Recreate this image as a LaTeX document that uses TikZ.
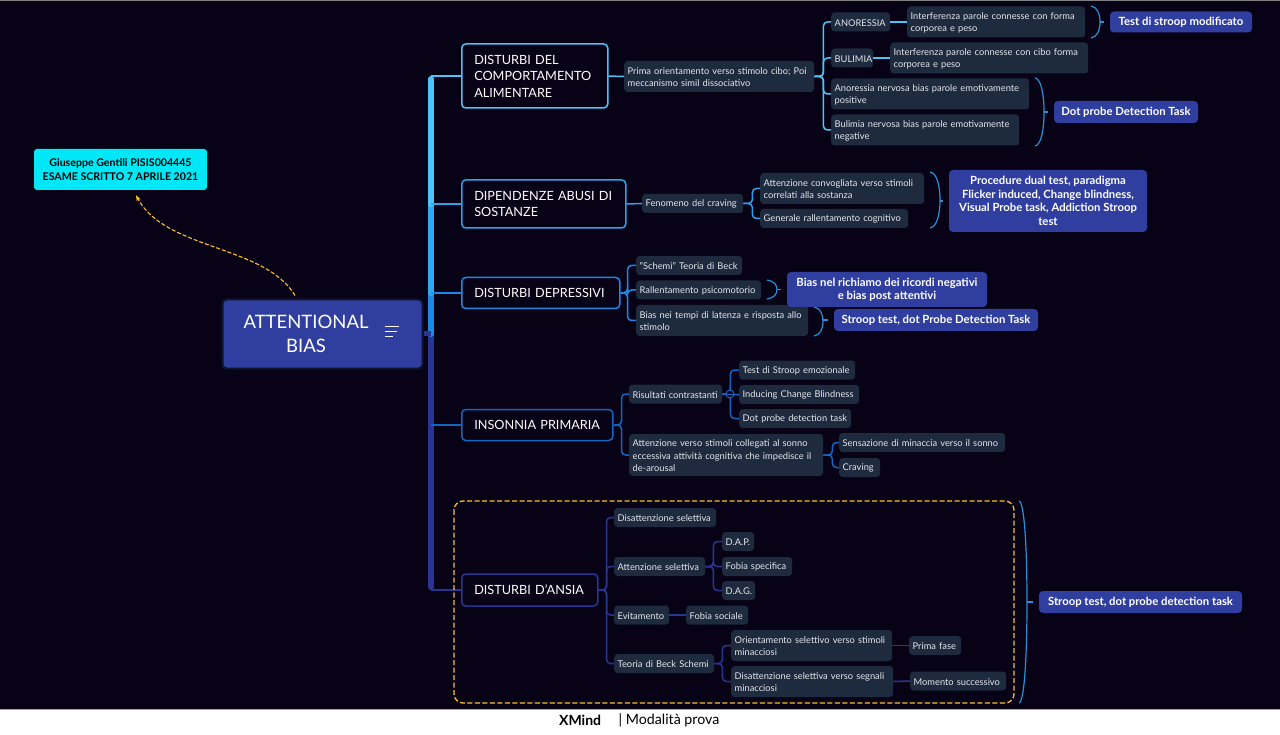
\documentclass[tikz,border=0pt]{standalone}
\usepackage{fontspec}
\setmainfont{Lato}
\usetikzlibrary{arrows.meta}

\definecolor{bgdark}{HTML}{080216}
\definecolor{leaffill}{HTML}{1E2A3E}
\definecolor{leaftext}{HTML}{E2E6EC}
\definecolor{sumfill}{HTML}{303F9F}
\definecolor{notefill}{HTML}{00E8F8}
\definecolor{relyellow}{HTML}{FBC02D}
\definecolor{braceblue}{HTML}{2A8FD6}
\definecolor{cone}{HTML}{4DC3FA}
\definecolor{ctwo}{HTML}{2BA2EC}
\definecolor{cthree}{HTML}{1E88E5}
\definecolor{cfour}{HTML}{1565C0}
\definecolor{cfive}{HTML}{283593}

\tikzset{
  leaf/.style={anchor=west, fill=leaffill, rounded corners=3.5pt, inner xsep=3.5pt, inner ysep=0pt,
    minimum height=19pt, align=left, text=leaftext, font=\fontsize{9.3}{12.5}\selectfont, text width=#1,
    text height=8.5pt},
  tall/.style={minimum height=31pt},
  branchbox/.style={anchor=west, draw=#1, fill=bgdark, line width=1.5pt, rounded corners=4pt, inner xsep=12.5pt,
    inner ysep=0pt, align=left, text=white, font=\fontsize{12.7}{16.5}\selectfont},
  sumbox/.style={fill=sumfill, rounded corners=4pt, inner sep=0pt, align=center, text=white,
    font=\fontsize{11.3}{13.5}\selectfont\bfseries},
  link/.style={draw=#1, line width=1.5pt, rounded corners=4pt},
  trunkline/.style={draw=#1, line width=6pt, line cap=round},
  sumline/.style={draw=braceblue, line width=1.2pt},
}

\newcommand{\sumbrace}[5]{
  \pgfmathsetmacro\bmid{(#4+#5)/2}
  \pgfmathsetmacro\bqrt{(#5-#4)/4}
  \pgfmathsetmacro\bctl{#2+0.7*(#3-#2)}
  \draw[sumline] (#2,#4) .. controls (\bctl,#4+1) and (#3,#4+\bqrt) .. (#3,\bmid)
                 .. controls (#3,#5-\bqrt) and (\bctl,#5-1) .. (#2,#5);
  \draw[sumline, shorten >=5.5pt] (#3,0 |- #1.west) -- (#1.west);
}

\begin{document}
\begin{tikzpicture}[x=1pt, y=-1pt]
  \useasboundingbox (0,0) rectangle (1280,735);
  \fill[bgdark] (0,0) rectangle (1280,710);
  \fill[gray] (0,0) rectangle (1280,1);
  \fill[gray!70] (0,709) rectangle (1280,710);

  % central topic
  \node[fill=sumfill, draw=black!70!sumfill, line width=2pt, rounded corners=4pt, minimum width=200pt, minimum height=69pt] (root) at (322.5,334) {};
  \node[text=white, align=center, inner sep=0pt, font=\fontsize{18.5}{24}\selectfont] (roottxt) at (306,333.5) {ATTENTIONAL\\BIAS};
  \draw[white, line width=1pt] (385,327) -- (399,327);
  \draw[white, line width=1pt] (385,332) -- (397,332);
  \draw[white, line width=1pt] (385,337) -- (393,337);

  \node[fill=notefill, rounded corners=3pt, minimum width=173pt, minimum height=41pt, inner sep=0pt, align=center, font=\fontsize{10.6}{13.5}\selectfont\bfseries, text=black] (note) at (120.5,169.5) {Giuseppe Gentili PISIS004445\\ESAME SCRITTO 7 APRILE 2021};
  \draw[relyellow, line width=1.1pt, dash pattern=on 4pt off 2pt, -{Stealth[length=6pt,width=4.5pt]}] ([xshift=-27.5pt,yshift=3pt]root.north) .. controls (265,245) and (165,250) .. ([xshift=15.5pt,yshift=-5pt]note.south);

  % main topics
  \node[branchbox=cone, text width=121pt, minimum height=64pt] (alim) at (461,76) {DISTURBI DEL\\COMPORTAMENTO\\ALIMENTARE};
  \node[branchbox=ctwo, text width=139pt, minimum height=48pt] (dip) at (461,204) {DIPENDENZE ABUSI DI\\SOSTANZE};
  \node[branchbox=cthree, text width=133pt, minimum height=31pt] (depr) at (461,293) {DISTURBI DEPRESSIVI};
  \node[branchbox=cfour, text width=126pt, minimum height=31pt] (inso) at (461,425) {INSONNIA PRIMARIA};
  \node[branchbox=cfive, text width=111pt, minimum height=32pt] (ansia) at (461,590) {DISTURBI D'ANSIA};

  \coordinate (trka) at (431,76);
  \coordinate (trkb) at (431,204);
  \coordinate (trkc) at (431,293);
  \coordinate (trkd) at (431,334);
  \coordinate (trke) at (431,425);
  \coordinate (trkf) at (431,590);
  \draw[trunkline=cfive] (trkd) -- ([yshift=3pt]trkf);
  \draw[trunkline=cthree] (trkc) -- (trkd);
  \draw[trunkline=ctwo!80!cone] (trkb) -- (trkc);
  \draw[trunkline=cone] ([yshift=-3pt]trka) -- (trkb);
  \draw[cfive, line width=5pt] (root.east) -- (trkd);
  \draw[link=cone, line width=2.5pt] (trka) -- (alim.west);
  \draw[link=ctwo, line width=2pt] (trkb) -- (dip.west);
  \draw[link=cthree, line width=2pt] (trkc) -- (depr.west);
  \draw[link=cfour, line width=2pt] (trke) -- (inso.west);
  \draw[link=cfive, line width=2.5pt] (trkf) -- (ansia.west);

  % disturbi alimentari
  \node[leaf=183pt, tall] (prima) at (624,76.5) {Prima orientamento verso stimolo cibo; Poi\\meccanismo simil dissociativo};
  \node[leaf=52pt] (ano) at (831,22) {ANORESSIA};
  \node[leaf=171pt, tall] (anoint) at (907,22) {Interferenza parole connesse con forma\\corporea e peso};
  \node[leaf=35pt] (bul) at (831,58) {BULIMIA};
  \node[leaf=191pt, tall] (bulint) at (890,58) {Interferenza parole connesse con cibo forma\\corporea e peso};
  \node[leaf=191pt, tall] (anopos) at (831,94) {Anoressia nervosa bias parole emotivamente\\positive};
  \node[leaf=181pt, tall] (bulneg) at (831,130) {Bulimia nervosa bias parole emotivamente\\negative};
  \node[sumbox, minimum width=142pt, minimum height=21pt] (stroopmod) at (1181,22) {Test di stroop modificato};
  \node[sumbox, minimum width=144pt, minimum height=22pt] (dotprobe) at (1126,112) {Dot probe Detection Task};
  \draw[link=cone] (alim.east) -- (prima.west);
  \foreach \n in {ano,bul,anopos,bulneg}
    \draw[link=cone] (prima.east) -- ++(9,0) |- (\n.west);
  \draw[link=cone] (ano.east) -- (anoint.west);
  \draw[link=cone] (bul.east) -- (bulint.west);
  \sumbrace{stroopmod}{1091}{1100}{6}{38}
  \sumbrace{dotprobe}{1035}{1044}{78}{146}

  % dipendenze
  \node[leaf=94pt] (crav) at (642,203.5) {Fenomeno del craving};
  \node[leaf=157pt, tall] (conv) at (760,188.5) {Attenzione convogliata verso stimoli\\correlati alla sostanza};
  \node[leaf=141pt] (rall) at (760,218.5) {Generale rallentamento cognitivo};
  \node[sumbox, minimum width=198pt, minimum height=62pt] (dual) at (1048,201) {Procedure dual test, paradigma\\Flicker induced, Change blindness,\\Visual Probe task, Addiction Stroop\\test};
  \draw[link=ctwo] (dip.east) -- (crav.west);
  \foreach \n in {conv,rall}
    \draw[link=ctwo] (crav.east) -- ++(9,0) |- (\n.west);
  \sumbrace{dual}{930}{940}{172}{228}

  % depressivi
  \node[leaf=99pt] (schemi) at (636,265.5) {"Schemi" Teoria di Beck};
  \node[leaf=118pt] (psico) at (636,290) {Rallentamento psicomotorio};
  \node[leaf=165pt, tall] (laten) at (636,320.5) {Bias nei tempi di latenza e risposta allo\\stimolo};
  \node[sumbox, minimum width=204pt, minimum height=22pt] (strpdot) at (936,320) {Stroop test, dot Probe Detection Task};
  \foreach \n in {schemi,psico,laten}
    \draw[link=cthree] (depr.east) -- ++(7,0) |- (\n.west);
  \sumbrace{strpdot}{814}{823}{307}{336}
  \node[sumbox, minimum width=200pt, minimum height=35pt] (richiamo) at (887,289.5) {Bias nel richiamo dei ricordi negativi\\e bias post attentivi};
  \sumbrace{richiamo}{767}{777}{280}{299}

  % insonnia
  \node[leaf=86pt] (risul) at (629,394) {Risultati contrastanti};
  \node[leaf=187pt, minimum height=42pt] (attso) at (629,455) {Attenzione verso stimoli collegati al sonno\\eccessiva attività cognitiva che impedisce il\\de-arousal};
  \node[leaf=109pt] (temo) at (739,370) {Test di Stroop emozionale};
  \node[leaf=113pt] (indu) at (739,394.5) {Inducing Change Blindness};
  \node[leaf=105pt] (dotp) at (739,418.5) {Dot probe detection task};
  \node[leaf=159pt] (minac) at (839,442.5) {Sensazione di minaccia verso il sonno};
  \node[leaf=34pt] (cravi) at (839,467.5) {Craving};
  \foreach \n in {risul,attso}
    \draw[link=cfour] (inso.east) -- ++(8,0) |- (\n.west);
  \foreach \n in {temo,indu,dotp}
    \draw[link=cfour] (risul.east) -- ++(8,0) |- (\n.west);
  \foreach \n in {minac,cravi}
    \draw[link=cfour] (attso.east) -- ++(9,0) |- (\n.west);
  \node[draw=cfour, fill=bgdark, circle, line width=1pt, inner sep=0pt, minimum size=8pt] (collapse) at (730,394) {};
  \draw[cfour, line width=1pt] (collapse.west) -- (collapse.east);

  % ansia
  \node[leaf=95pt] (disatt) at (614,517.5) {Disattenzione selettiva};
  \node[leaf=84pt] (attsel) at (614,566.5) {Attenzione selettiva};
  \node[leaf=48pt] (evit) at (614,615) {Evitamento};
  \node[leaf=93pt] (teor) at (614,663.5) {Teoria di Beck Schemi};
  \node[leaf=25pt] (dap) at (722,541.5) {D.A.P.};
  \node[leaf=63pt] (fobsp) at (722,566.5) {Fobia specifica};
  \node[leaf=26pt] (dag) at (722,590.5) {D.A.G.};
  \node[leaf=55pt] (fobso) at (686,615) {Fobia sociale};
  \node[leaf=154pt, tall] (orien) at (731,645.5) {Orientamento selettivo verso stimoli\\minacciosi};
  \node[leaf=155pt, tall] (disel) at (731,681.5) {Disattenzione selettiva verso segnali\\minacciosi};
  \node[leaf=45pt] (prfase) at (909,645.5) {Prima fase};
  \node[leaf=89pt] (momen) at (910,681) {Momento successivo};
  \foreach \n in {disatt,attsel,evit,teor}
    \draw[link=cfive] (ansia.east) -- ++(8,0) |- (\n.west);
  \foreach \n in {dap,fobsp,dag}
    \draw[link=cfive] (attsel.east) -- ++(8,0) |- (\n.west);
  \draw[link=cfive] (evit.east) -- (fobso.west);
  \foreach \n in {orien,disel}
    \draw[link=cfive] (teor.east) -- ++(8,0) |- (\n.west);
  \draw[link=cfive] (orien.east) -- (prfase.west);
  \draw[link=cfive] (disel.east) -- (momen.west);

  \draw[relyellow, line width=1.3pt, dash pattern=on 5pt off 2.5pt, rounded corners=9pt] (454,501) rectangle (1014,703);
  \node[sumbox, minimum width=203pt, minimum height=22pt] (strplast) at (1140.5,602) {Stroop test, dot probe detection task};
  \sumbrace{strplast}{1019}{1027}{501}{703}

  % footer
  \node[inner sep=0pt, font=\fontsize{14}{16}\selectfont\bfseries, text=black, anchor=west] (xmind) at (559,720) {XMind};
  \node[inner sep=0pt, font=\fontsize{14.2}{16}\selectfont, text=black, anchor=west] (prova) at (618.5,720.5) {| Modalità prova};
\end{tikzpicture}
\end{document}
